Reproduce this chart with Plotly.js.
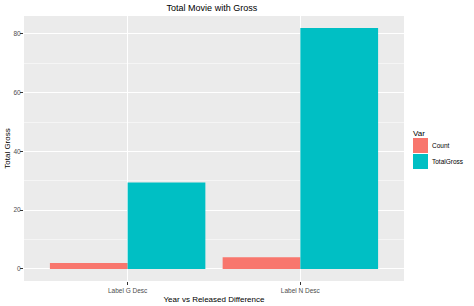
<!DOCTYPE html>
<html>
<head>
<meta charset="utf-8">
<script src="https://cdn.plot.ly/plotly-3.0.1.min.js"></script>
<style>html,body{margin:0;padding:0;background:#fff;}#chart{width:474px;height:306px;}</style>
</head>
<body>
<div id="chart"></div>
<script>
var categories = ["Label G Desc", "Label N Desc"];
var countValues = [2, 4];
var totalGrossValues = [29.4, 82];
var seriesNames = ["Count", "TotalGross"];
var seriesColors = ["#F8766D", "#00BFC4"];
var legendTitle = "Var";

var font = "Liberation Sans, Arial, sans-serif";
var W = 474, H = 306;
var M = {l: 24, r: 70, t: 16, b: 25};
var PW = W - M.l - M.r, PH = H - M.t - M.b;
function px(x) { return (x - M.l) / PW; }
function py(y) { return (H - M.b - y) / PH; }

var traces = [
  {type: "bar", name: seriesNames[0], x: categories, y: countValues, marker: {color: seriesColors[0]}, hoverinfo: "none", showlegend: false},
  {type: "bar", name: seriesNames[1], x: categories, y: totalGrossValues, marker: {color: seriesColors[1]}, hoverinfo: "none", showlegend: false}
];

// custom ggplot-style legend
var shapes = [], annotations = [];
annotations.push({xref: "paper", yref: "paper", x: px(411.5), y: py(133), xanchor: "left", yanchor: "middle",
  text: legendTitle, showarrow: false, font: {family: font, size: 8, color: "#000"}});
seriesNames.forEach(function (name, i) {
  var top = 138 + i * 16;
  shapes.push({type: "rect", xref: "paper", yref: "paper", x0: px(413), x1: px(428), y0: py(top), y1: py(top + 15),
    fillcolor: seriesColors[i], line: {width: 0}, layer: "above"});
  annotations.push({xref: "paper", yref: "paper", x: px(430), y: py(top + 7.5), xanchor: "left", yanchor: "middle",
    text: name, showarrow: false, font: {family: font, size: 6.5, color: "#000"}});
});

var layout = {
  width: W, height: H,
  margin: {l: M.l, r: M.r, t: M.t, b: M.b, pad: 0, autoexpand: false},
  paper_bgcolor: "#ffffff",
  plot_bgcolor: "#EBEBEB",
  barmode: "group",
  bargap: 0.1,
  bargroupgap: 0,
  font: {family: font, color: "#4D4D4D", size: 6.5},
  title: {text: "Total Movie with Gross", font: {family: font, size: 9, color: "#000"}, x: 0.447, xanchor: "center", y: 0.975, yanchor: "middle"},
  xaxis: {
    title: {text: "Year vs Released Difference", font: {family: font, size: 8, color: "#000"}, standoff: 3},
    showgrid: true, gridcolor: "#ffffff", gridwidth: 1,
    ticks: "outside", ticklen: 3, tickcolor: "#333333", tickwidth: 1,
    tickfont: {family: font, size: 6.5, color: "#4D4D4D"},
    zeroline: false, showline: false, automargin: false,
    range: [-0.6, 1.6]
  },
  yaxis: {
    title: {text: "Total Gross", font: {family: font, size: 8, color: "#000"}, standoff: 1},
    range: [-4.1, 86.1],
    tick0: 0, dtick: 20,
    showgrid: true, gridcolor: "#ffffff", gridwidth: 1,
    minor: {tick0: 10, dtick: 20, showgrid: true, gridcolor: "#ffffff", gridwidth: 0.5, ticks: ""},
    ticks: "outside", ticklen: 3, tickcolor: "#333333", tickwidth: 1,
    ticklabelstandoff: -2,
    tickfont: {family: font, size: 6.5, color: "#4D4D4D"},
    zeroline: false, showline: false, automargin: true
  },
  showlegend: false,
  shapes: shapes,
  annotations: annotations
};
Plotly.newPlot("chart", traces, layout, {staticPlot: true, displayModeBar: false});
</script>
</body>
</html>
